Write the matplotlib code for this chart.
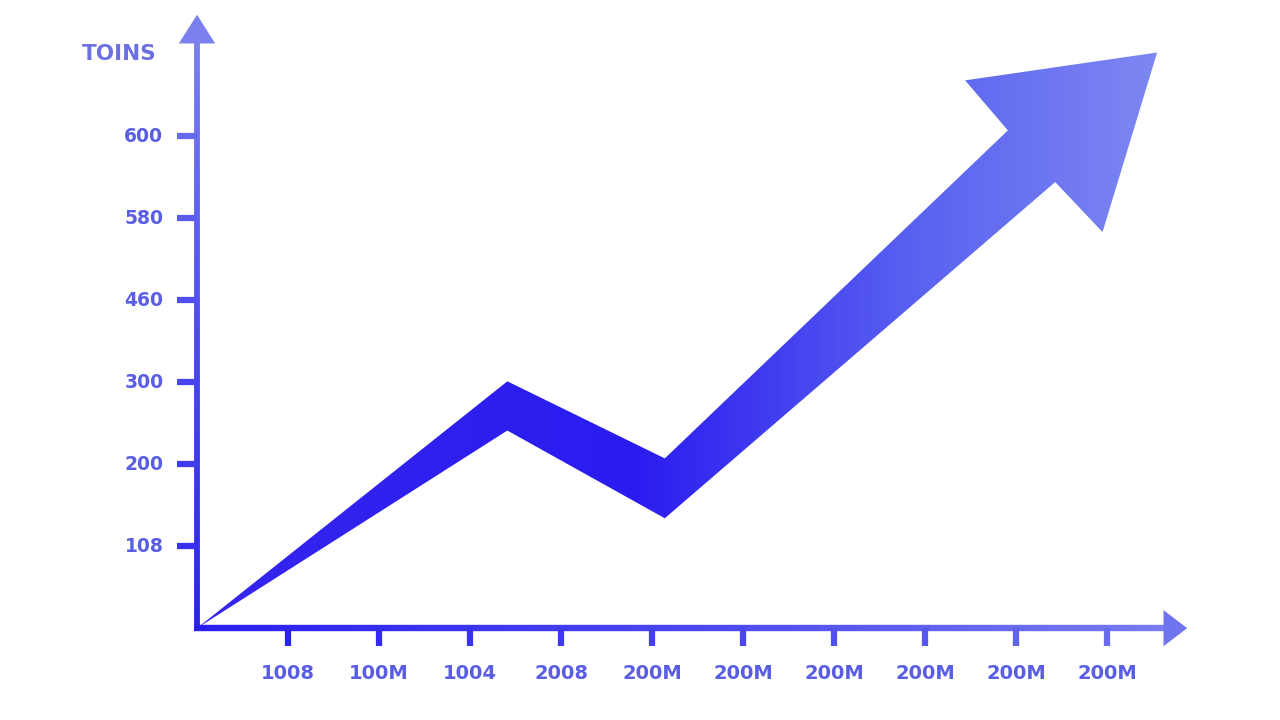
import numpy as np
import matplotlib

matplotlib.use("Agg")
import matplotlib.pyplot as plt
from matplotlib.colors import LinearSegmentedColormap
from matplotlib.patches import Polygon
from matplotlib.collections import LineCollection

# axis labels as drawn in the picture
x_labels = ["1008", "100M", "1004", "2008", "200M", "200M", "200M", "200M", "200M", "200M"]
x_ticks = list(range(1, 11))
y_ticks = [100, 200, 300, 400, 500, 600]
y_labels = ["108", "200", "300", "460", "580", "600"]
unit_label = "TOINS"

# zigzag trend band (upper and lower edges) and arrow head
upper_x = [0.0, 3.41, 5.14, 8.91]
upper_y = [0, 301, 207, 607]
lower_x = [0.0, 3.41, 5.14, 9.43]
lower_y = [0, 241, 134, 544]
head_x = [8.44, 10.55, 9.95]
head_y = [668, 702, 483]

band_cmap = LinearSegmentedColormap.from_list(
    "band", [(0.0, "#3526ee"), (0.45, "#2a1bf0"), (0.75, "#5a62f0"), (1.0, "#7e88f2")])
axis_cmap = LinearSegmentedColormap.from_list("axis", ["#2a1fee", "#4b48ee", "#7a80ee"])
text_color = "#5a5ee4"

fig = plt.figure(figsize=(12.8, 7.2), dpi=100)
ax = fig.add_axes([0, 0, 1, 1])
ax.set_xlim(-2.165, 11.9)
ax.set_ylim(-112, 766)
ax.axis("off")

# trend band with gradient fill
poly_x = upper_x + head_x + lower_x[::-1]
poly_y = upper_y + head_y + lower_y[::-1]
patch = Polygon(np.column_stack([poly_x, poly_y]), closed=True, facecolor="none",
                edgecolor="none")
ax.add_patch(patch)
gx = np.linspace(0, 1, 400)
grad = np.tile(gx, (200, 1))
im = ax.imshow(grad, cmap=band_cmap, extent=(0, 10.6, 0, 710), origin="lower",
               aspect="auto", interpolation="bilinear", zorder=2)
im.set_clip_path(patch)

# y axis with gradient and arrow head
y_top = 720
ys = np.linspace(0, y_top, 60)
segs = [[(0, ys[i]), (0, ys[i + 1])] for i in range(len(ys) - 1)]
ax.add_collection(LineCollection(segs, colors=axis_cmap(np.linspace(0.05, 1, len(segs))),
                                 linewidths=4.2, zorder=3, capstyle="butt"))
ax.add_patch(Polygon([(-0.2, 713), (0.2, 713), (0, 748)], closed=True,
                     facecolor="#7b80ee", edgecolor="none", zorder=3))

# x axis with gradient and arrow head
x_end = 10.62
xs = np.linspace(-0.03, x_end, 80)
segs = [[(xs[i], 0), (xs[i + 1], 0)] for i in range(len(xs) - 1)]
ax.add_collection(LineCollection(segs, colors=axis_cmap(np.linspace(0, 0.95, len(segs))),
                                 linewidths=4.6, zorder=3, capstyle="butt"))
ax.add_patch(Polygon([(x_end, 22), (x_end, -22), (10.88, 0)], closed=True,
                     facecolor="#6f75ee", edgecolor="none", zorder=3))

# y ticks and labels
for v, lab in zip(y_ticks, y_labels):
    c = axis_cmap(0.1 + 0.8 * v / 700)
    ax.plot([-0.22, 0], [v, v], color=c, lw=4.5, solid_capstyle="butt", zorder=3)
    ax.text(-0.37, v, lab, ha="right", va="center", fontsize=13.5, fontweight="bold",
            color=text_color, family="DejaVu Sans")

# x ticks and labels
for i, (v, lab) in enumerate(zip(x_ticks, x_labels)):
    c = axis_cmap(0.05 + 0.85 * i / 10)
    ax.plot([v, v], [0, -22], color=c, lw=4.5, solid_capstyle="butt", zorder=3)
    ax.text(v, -55, lab, ha="center", va="center", fontsize=14, fontweight="bold",
            color=text_color, family="DejaVu Sans")

ax.text(-0.86, 700, unit_label, ha="center", va="center", fontsize=15.5,
        fontweight="bold", color="#6b70e2", family="DejaVu Sans")

fig.savefig("out.png", dpi=100, facecolor="white")
